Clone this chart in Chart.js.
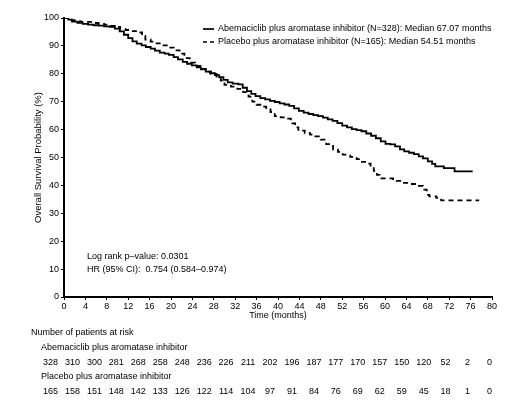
<!DOCTYPE html>
<html lang="en">
<head>
<meta charset="UTF-8">
<title>Overall Survival</title>
<script src="https://cdn.jsdelivr.net/npm/chart.js"></script>
<style>
  body { margin: 0; background: #fff; }
</style>
</head>
<body>
<canvas id="kmChart" width="508" height="412"></canvas>
<script>
// Kaplan-Meier steps (months, survival %)
const abemaTime = [0, 0.8, 1.5, 2.5, 3.5, 4.5, 5.5, 6.5, 7.5, 8.5, 9.5, 10.4, 11.2, 12.0, 12.8, 13.6, 14.5, 15.3, 16.2, 17.0,
  17.9, 18.8, 19.6, 20.5, 21.3, 22.2, 23.0, 23.9, 24.8, 25.6, 26.5, 27.3, 28.2, 29.0, 29.8, 30.6, 31.5, 32.6, 33.4, 34.2,
  35.0, 35.8, 36.7, 37.6, 38.5, 39.4, 40.3, 41.2, 42.1, 43.0, 43.9, 44.8, 45.7, 46.6, 47.5, 48.4, 49.3, 50.2, 51.1, 52.0,
  52.9, 53.8, 54.7, 55.6, 56.5, 57.4, 58.3, 59.2, 60.1, 61.0, 61.9, 62.8, 63.6, 64.5, 65.4, 66.3, 67.1, 68.0, 68.8, 69.4,
  71.0, 73.0, 76.4];
const abemaSurv = [100, 99.4, 98.7, 98.3, 97.9, 97.6, 97.4, 97.3, 97.0, 96.8, 96.2, 95.2, 94.0, 92.8, 91.6, 90.8, 90.2, 89.6, 89.0, 88.3,
  87.6, 87.2, 86.8, 86.0, 85.2, 84.3, 83.6, 83.0, 82.3, 81.6, 80.8, 80.2, 79.5, 78.8, 77.8, 76.9, 76.5, 76.2, 75.0, 73.8,
  72.8, 72.0, 71.3, 70.8, 70.3, 69.9, 69.4, 69.0, 68.5, 67.6, 66.7, 66.1, 65.6, 65.2, 64.8, 64.3, 63.7, 63.1, 62.3, 61.4,
  60.8, 60.2, 59.8, 59.4, 58.6, 57.8, 56.9, 55.8, 54.9, 54.7, 54.0, 52.9, 52.2, 51.7, 51.2, 50.4, 49.7, 48.6, 47.7, 46.8,
  46.2, 45.0, 45.0];

const placeboTime = [0, 1, 2, 3.2, 5.3, 6.5, 7.5, 8.5, 9.5, 10.5, 11.5, 12.6, 13.8, 14.6, 15.2, 16.2, 17.3, 18.3, 19.5, 20.5,
  21.6, 22.5, 23.5, 24.5, 25.5, 26.5, 27.5, 28.5, 29.3, 30.0, 31.2, 32.4, 33.5, 34.5, 35.2, 36.0, 37.0, 37.8, 38.6, 39.4,
  40.5, 41.6, 42.4, 43.2, 43.8, 45, 46, 47, 48, 49, 50.3, 51.2, 52.1, 53.5, 54.7, 55.7, 56.5, 57.3, 57.9, 58.5,
  59.0, 61.5, 62.2, 63.2, 64.5, 65.9, 67.1, 67.8, 68.3, 69.6, 70.5, 77.6];
const placeboSurv = [100, 99.2, 98.8, 98.6, 98.2, 97.9, 97.6, 97.2, 96.8, 96.1, 95.7, 95.3, 94.8, 93.6, 92.3, 91.5, 90.9, 90.2, 89.4, 88.4,
  87.2, 85.6, 84.0, 82.8, 81.8, 80.8, 80.0, 79.0, 77.6, 76.0, 75.4, 74.6, 73.4, 71.8, 70.0, 68.9, 68.2, 67.6, 66.3, 64.8,
  64.4, 63.9, 62.2, 60.8, 59.6, 58.7, 58.2, 57.6, 56.4, 54.8, 52.8, 52.0, 51.0, 50.2, 49.4, 48.4, 47.8, 46.6, 45.2, 43.8,
  42.5, 42.3, 41.6, 40.9, 40.5, 39.8, 38.5, 36.6, 36.1, 35.5, 34.6, 34.6];

// number at risk, every 4 months from 0 to 80
const abemaRisk = [328, 310, 300, 281, 268, 258, 248, 236, 226, 211, 202, 196, 187, 177, 170, 157, 150, 120, 52, 2, 0];
const placeboRisk = [165, 158, 151, 148, 142, 133, 126, 122, 114, 104, 97, 91, 84, 76, 69, 62, 59, 45, 18, 1, 0];

const abemaLabel = 'Abemaciclib plus aromatase inhibitor';
const placeboLabel = 'Placebo plus aromatase inhibitor';

const FONT = '"Liberation Sans", Arial, Helvetica, sans-serif';

function toPoints(xs, ys) {
  return xs.map((t, i) => ({ x: t, y: ys[i] }));
}

// titles, legend, stats and risk table
const textPlugin = {
  id: 'kmText',
  afterDraw(chart) {
    const ctx = chart.ctx;
    const area = chart.chartArea;
    ctx.save();
    ctx.fillStyle = '#000';
    ctx.strokeStyle = '#000';
    ctx.font = '9px ' + FONT;
    ctx.textBaseline = 'middle';

    // legend
    ctx.lineWidth = 1.7;
    ctx.beginPath();
    ctx.moveTo(203, 29); ctx.lineTo(214, 29);
    ctx.stroke();
    ctx.setLineDash([4, 3]);
    ctx.beginPath();
    ctx.moveTo(203, 42); ctx.lineTo(214, 42);
    ctx.stroke();
    ctx.setLineDash([]);
    ctx.textAlign = 'left';
    ctx.fillText(abemaLabel + ' (N=328): Median 67.07 months', 218, 29);
    ctx.fillText(placeboLabel + ' (N=165): Median 54.51 months', 218, 42);

    // stats
    ctx.fillText('Log rank p\u2013value: 0.0301', 87, 257);
    ctx.fillText('HR (95% CI):  0.754 (0.584\u20130.974)', 87, 270);

    // axis titles
    ctx.textAlign = 'center';
    ctx.fillText('Time (months)', (area.left + area.right) / 2, 316);
    ctx.save();
    ctx.translate(38, (area.top + area.bottom) / 2);
    ctx.rotate(-Math.PI / 2);
    ctx.font = '9.5px ' + FONT;
    ctx.fillText('Overall Survival Probability (%)', 0, 0);
    ctx.restore();

    // number at risk
    ctx.textAlign = 'left';
    ctx.fillText('Number of patients at risk', 31, 333);
    ctx.fillText(abemaLabel, 41, 348);
    ctx.fillText(placeboLabel, 41, 377);
    ctx.textAlign = 'center';
    const first = 50.5, last = 489.5;
    const step = (last - first) / (abemaRisk.length - 1);
    abemaRisk.forEach((n, i) => ctx.fillText(String(n), first + i * step, 363));
    placeboRisk.forEach((n, i) => ctx.fillText(String(n), first + i * step, 392));
    ctx.restore();
  }
};

const ctx = document.getElementById('kmChart');

new Chart(ctx, {
  type: 'line',
  data: {
    datasets: [
      {
        label: abemaLabel,
        data: toPoints(abemaTime, abemaSurv),
        borderColor: '#000',
        borderWidth: 1.8,
        pointRadius: 0,
        stepped: true,
        fill: false
      },
      {
        label: placeboLabel,
        data: toPoints(placeboTime, placeboSurv),
        borderColor: '#000',
        borderWidth: 1.8,
        borderDash: [5, 4],
        pointRadius: 0,
        stepped: true,
        fill: false
      }
    ]
  },
  options: {
    responsive: false,
    animation: false,
    layout: { padding: { left: 0, right: 16, top: 18, bottom: 99 } },
    plugins: { legend: { display: false }, tooltip: { enabled: false } },
    scales: {
      x: {
        type: 'linear',
        min: 0,
        max: 80,
        ticks: { stepSize: 4, color: '#000', padding: 1, maxRotation: 0, autoSkip: false, font: { family: FONT, size: 9 } },
        grid: { drawOnChartArea: false, drawTicks: true, tickLength: 3, color: '#000', lineWidth: 1 },
        border: { color: '#000', width: 2 },
        afterFit: (scale) => { scale.height = 16; }
      },
      y: {
        min: 0,
        max: 100,
        ticks: { stepSize: 10, color: '#000', padding: 2, font: { family: FONT, size: 9 } },
        grid: { drawOnChartArea: false, drawTicks: true, tickLength: 3, color: '#000', lineWidth: 1 },
        border: { color: '#000', width: 2 },
        afterFit: (scale) => { scale.width = 64; }
      }
    }
  },
  plugins: [textPlugin]
});
</script>
</body>
</html>
